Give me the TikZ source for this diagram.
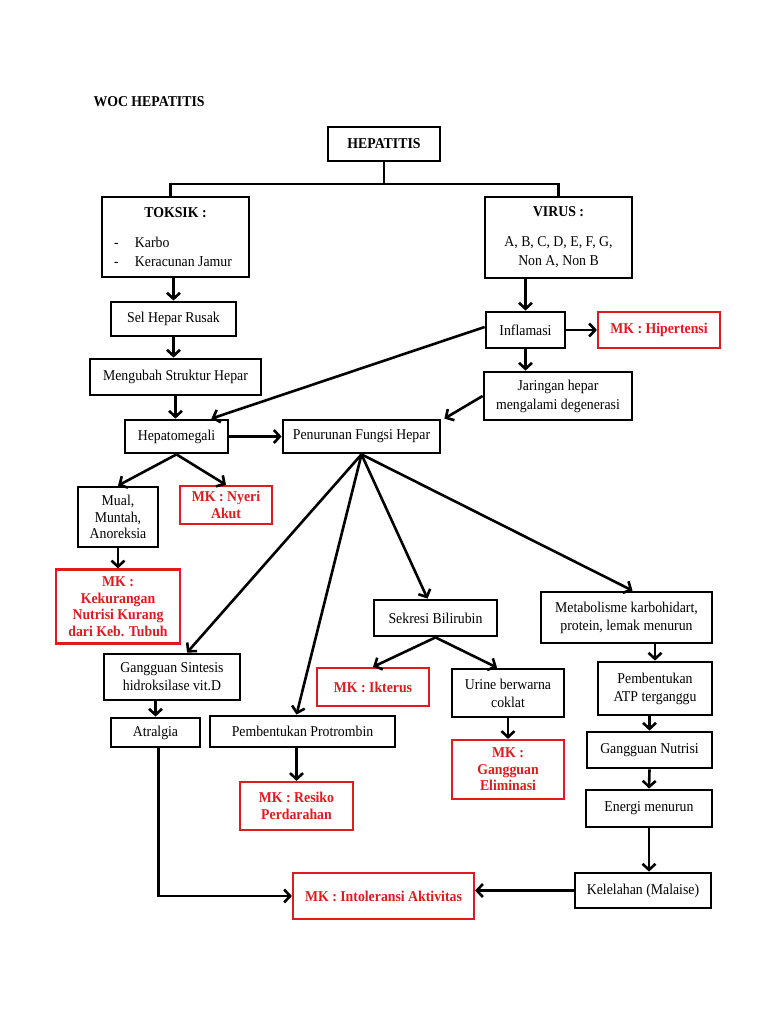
\documentclass[tikz,border=0pt]{standalone}
\usepackage{fontspec}
\setmainfont{Liberation Serif}[FakeStretch=0.92]
\usepackage{tikz}
\usetikzlibrary{arrows.meta,positioning}
\definecolor{mkred}{RGB}{226,26,30}
\newcommand\teks{\fontsize{15}{18}\selectfont}
\newcommand\teksrapat{\fontsize{15}{16.5}\selectfont}

\tikzset{
  kotak/.style={draw, line width=2.8pt, align=center, inner sep=2pt},
  mk/.style={kotak, draw=mkred, line width=2.2pt, text=mkred, font=\teksrapat\bfseries},
  panah/.style={line width=2.6pt, -{Straight Barb[length=6pt,width=13pt,line width=2.6pt]}},
  garis/.style={line width=2.6pt}
}

\begin{document}
\begin{tikzpicture}[x=1pt, y=-1pt, font=\teks]
          \useasboundingbox (0,0) rectangle (768,1024);

          \node[anchor=west, font=\teks\bfseries] (judul) at (90,102) {WOC HEPATITIS};

          \node[kotak, minimum width=112, minimum height=34, font=\teks\bfseries] (hep) at (384,144) {HEPATITIS};
          \node[kotak, minimum width=147, minimum height=80] (tok) at (175.5,237)
            {\textbf{TOKSIK :}\\[12pt]\makebox[127pt][l]{\hspace{2pt}\makebox[21pt][l]{-}Karbo}\\[1pt]
             \makebox[127pt][l]{\hspace{2pt}\makebox[21pt][l]{-}Keracunan Jamur}};
          \node[kotak, minimum width=147, minimum height=81] (vir) at (558.5,237.5)
            {\textbf{VIRUS :}\\[12pt]A, B, C, D, E, F, G,\\[1pt]Non A, Non B};

          \node[kotak, minimum width=125, minimum height=34] (sel)   at (173.5,319)   {Sel Hepar Rusak};
          \node[kotak, minimum width=171, minimum height=36] (meng)  at (175.5,377)   {Mengubah Struktur Hepar};
          \node[kotak, minimum width=103, minimum height=33] (hepa)  at (176.5,436.5) {Hepatomegali};
          \node[kotak, minimum width=157, minimum height=33] (pen)   at (361.5,436.5) {Penurunan Fungsi Hepar};
          \node[kotak, minimum width=79,  minimum height=36] (inf)   at (525.5,330)   {Inflamasi};
          \node[mk,    minimum width=122, minimum height=36] (hip)   at (659,330)     {MK : Hipertensi};
          \node[kotak, minimum width=148, minimum height=48] (jar)   at (558,396)     {Jaringan hepar\\[1pt]mengalami degenerasi};

          \node[kotak, minimum width=80,  minimum height=60, font=\teksrapat] (mual) at (118,517) {Mual,\\Muntah,\\Anoreksia};
          \node[mk,    minimum width=92,  minimum height=38] (nyeri) at (226,505)     {MK : Nyeri\\Akut};
          \node[mk,    minimum width=124, minimum height=74] (kek)   at (118,606.5)   {MK :\\Kekurangan\\Nutrisi Kurang\\dari Keb. Tubuh};

          \node[kotak, minimum width=136, minimum height=46] (gs)    at (172,677)     {Gangguan Sintesis\\hidroksilase vit.D};
          \node[kotak, minimum width=89,  minimum height=29] (atr)   at (155.5,732.5) {Atralgia};
          \node[kotak, minimum width=185, minimum height=31] (prot)  at (302.5,731.5) {Pembentukan Protrombin};
          \node[mk,    minimum width=113, minimum height=48] (res)   at (296.5,806)   {MK : Resiko\\Perdarahan};

          \node[kotak, minimum width=123, minimum height=36] (sek)   at (435.5,618)   {Sekresi Bilirubin};
          \node[mk,    minimum width=112, minimum height=38] (ikt)   at (373,687)     {MK : Ikterus};
          \node[kotak, minimum width=112, minimum height=48] (urine) at (508,693)     {Urine berwarna\\coklat};
          \node[mk,    minimum width=112, minimum height=59] (elim)  at (508,769.5)   {MK :\\Gangguan\\Eliminasi};

          \node[kotak, minimum width=171, minimum height=51] (meta)  at (626.5,617.5) {Metabolisme karbohidart,\\protein, lemak menurun};
          \node[kotak, minimum width=114, minimum height=53] (atp)   at (655,688.5)   {Pembentukan\\ATP terganggu};
          \node[kotak, minimum width=125, minimum height=36] (gn)    at (649.5,750)   {Gangguan Nutrisi};
          \node[kotak, minimum width=126, minimum height=37] (en)    at (649,808.5)   {Energi menurun};
          \node[kotak, minimum width=136, minimum height=35] (kel)   at (643,890.5)   {Kelelahan (Malaise)};
          \node[mk,    minimum width=181, minimum height=46] (into)  at (383.5,896)   {MK : Intoleransi Aktivitas};

          \coordinate (cabang) at (384,184);
          \draw[garis] (hep.south) -- (cabang);
          \draw[garis] ([xshift=-5pt]tok.north) |- (cabang) -| (vir.north);

          \draw[panah] (tok.south -| sel.north) -- (sel.north);
          \draw[panah] (sel.south) -- (sel.south |- meng.north);
          \draw[panah] (meng.south) -- (meng.south |- hepa.north);
          \draw[panah] (hepa.east) -- (hepa.east -| pen.west);
          \draw[panah] (vir.south -| inf.north) -- (inf.north);
          \draw[panah] (inf.east) -- (hip.west);
          \draw[panah] (inf.south) -- (inf.south |- jar.north);
          \draw[panah] ([yshift=3pt]inf.west) -- ([xshift=-18pt]hepa.north east);
          \draw[panah] (jar.west) -- ([xshift=3pt]pen.north east);

          \draw[panah] (hepa.south) -- (mual.north);
          \draw[panah] (hepa.south) -- (nyeri.north);
          \draw[panah] (mual.south) -- (kek.north);

          \draw[panah] (pen.south) -- ([xshift=15pt]gs.north);
          \draw[panah] (pen.south) -- ([xshift=-6pt]prot.north);
          \draw[panah] (pen.south) -- ([xshift=-8pt]sek.north);
          \draw[panah] (pen.south) -- ([xshift=6pt]meta.north);

          \draw[panah] (gs.south -| atr.north) -- (atr.north);
          \draw[panah] (prot.south -| res.north) -- (res.north);
          \draw[panah] (sek.south) -- (ikt.north);
          \draw[panah] (sek.south) -- ([xshift=-11pt]urine.north);
          \draw[panah] (urine.south) -- (elim.north);

          \draw[panah] (meta.south -| atp.north) -- (atp.north);
          \draw[panah] (atp.south -| gn.north) -- (gn.north);
          \draw[panah] (gn.south) -- (en.north);
          \draw[panah] (en.south) -- (en.south |- kel.north);
          \draw[panah] (kel.west) -- (kel.west -| into.east);
          \draw[panah] ([xshift=3pt]atr.south) |- (into.west);
        \end{tikzpicture}
\end{document}
